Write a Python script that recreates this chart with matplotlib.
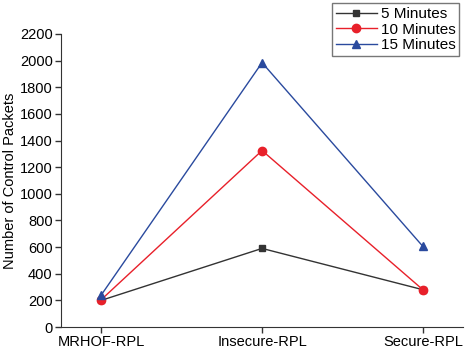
import matplotlib.pyplot as plt

plt.rcParams['font.family'] = ['Liberation Sans', 'DejaVu Sans']

# protocolos e numero de pacotes de controle
protocolos = ['MRHOF-RPL', 'Insecure-RPL', 'Secure-RPL']
min5 = [200, 590, 280]
min10 = [205, 1325, 280]
min15 = [240, 1985, 605]

fig = plt.figure(figsize=(4.74, 3.5), dpi=100)
ax = fig.add_axes([0.1287, 0.0657, 0.8483, 0.8372])

x = range(len(protocolos))
ax.plot(x, min5, color='#333333', marker='s', markersize=5, lw=1, label='5 Minutes')
ax.plot(x, min10, color='#e8202a', marker='o', markersize=6, lw=1, label='10 Minutes')
ax.plot(x, min15, color='#2a4a9e', marker='^', markersize=6, lw=1, label='15 Minutes')

ax.set_xlim(-0.25, 2.25)
ax.set_ylim(0, 2200)
ax.set_yticks(range(0, 2201, 200))
ax.set_xticks(list(x))
ax.set_xticklabels(protocolos)
ax.set_ylabel('Number of Control Packets', fontsize=10.5, labelpad=2)
ax.tick_params(labelsize=10.5, width=1, length=4, color='#333333', pad=2)
for s in ['top', 'right']:
    ax.spines[s].set_visible(False)
for s in ['left', 'bottom']:
    ax.spines[s].set_color('#333333')

leg = fig.legend(loc='upper right', bbox_to_anchor=(0.985, 1.012), fontsize=11,
                 fancybox=False, edgecolor='#777777', framealpha=1,
                 handlelength=2.7, borderpad=0.25, labelspacing=0.1, handletextpad=0.25)

fig.savefig('out.png', dpi=100)
